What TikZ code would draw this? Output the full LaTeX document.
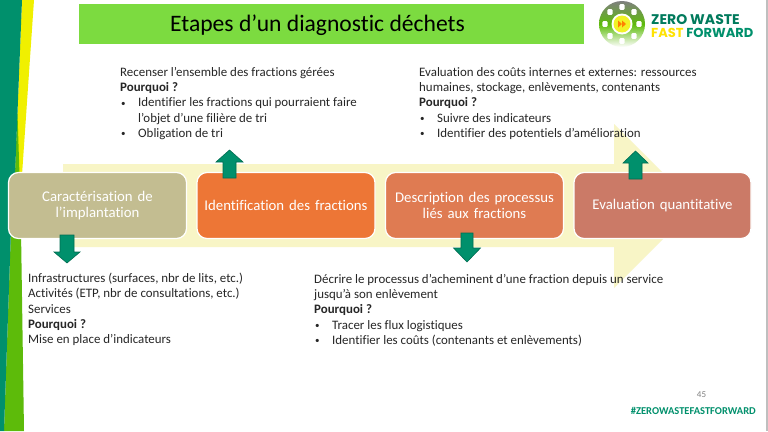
\documentclass[tikz,border=0pt]{standalone}
\usepackage{fontspec}
\setmainfont{Carlito}[Ligatures=CommonOff]
\newfontfamily\logofont{Poppins}
\definecolor{dkgreen}{HTML}{00906C}
\definecolor{ylw}{HTML}{F0F000}
\definecolor{lime}{HTML}{5DBB0A}
\definecolor{titlegreen}{HTML}{7CDB40}
\definecolor{pale}{HTML}{F8F5C6}
\definecolor{boxa}{HTML}{C3BD91}
\definecolor{boxb}{HTML}{ED7636}
\definecolor{boxc}{HTML}{DF7B52}
\definecolor{boxd}{HTML}{CB7A67}
\definecolor{txt}{HTML}{262626}
\tikzset{
 x=1pt,y=-1pt,
 stage/.style={draw=white,line width=1.2pt,rounded corners=10pt,minimum height=66pt,text=white,font=\fontsize{14.8}{16.2}\selectfont,align=center,inner sep=0pt,text width=#1},
 stage/.default=150pt,
 body/.style={anchor=north west,inner sep=0pt,text=txt,font=\fontsize{12.9}{15.3}\selectfont,align=left},
 arr/.style={fill=dkgreen,draw=dkgreen!75!black,line width=.6pt},
 icon/.style={fill=white,rounded corners=1pt},
}
\newcommand{\bul}{\hbox to 18pt{\hspace*{1pt}{\fontsize{9}{9}\selectfont\raisebox{.7pt}{\textbullet}}\hfil}}
\begin{document}
\begin{tikzpicture}
\useasboundingbox (0,0) rectangle (768,431);
\fill[white] (0,0) rectangle (768,431);
\fill[black!25] (766,0) rectangle (768,431);
% left strips
\fill[ylw] (22,0) -- (34,0) -- (22,175) -- (15,175) -- cycle;
\fill[lime] (17.4,110) -- (19.5,175) -- (21,230) -- (24,431) -- (4,431) -- (11,230) -- (15,175) -- cycle;
\fill[dkgreen] (0,0) -- (22,0) -- (15,175) -- (11,230) -- (4,431) -- (0,431) -- cycle;
% title
\node[fill=titlegreen,minimum width=505pt,minimum height=40pt,inner sep=0pt,anchor=north west] (title) at (79,4) {};
\node[font=\fontsize{23.6}{28}\selectfont,text=black,inner sep=0pt] (titletext) at (317.5,25.5) {Etapes d’un diagnostic déchets};
% big arrow
\fill[pale] (63,164) -- (614,164) -- (614,124) -- (696,206) -- (614,288) -- (614,247) -- (63,247) -- cycle;
% stages
\node[stage=178pt,fill=boxa] (s1) at (97.5,205.5) {Caractérisation de\\l’implantation};
\node[stage=178pt,fill=boxb] (s2) at (286,205.5) {Identification des fractions};
\node[stage=178pt,fill=boxc] (s3) at (474.5,205.5) {Description des processus\\liés aux fractions};
\node[stage=177pt,fill=boxd] (s4) at (662.5,205.5) {Evaluation quantitative};
% arrows
\draw[arr] (60,235) -- (74,235) -- (74,252) -- (80,252) -- (67,263) -- (54,252) -- (60,252) -- cycle;
\draw[arr] (223,178) -- (236,178) -- (236,162) -- (243,162) -- (229.5,150) -- (216,162) -- (223,162) -- cycle;
\draw[arr] (461,233) -- (473,233) -- (473,248) -- (480.5,248) -- (467,262) -- (453.5,248) -- (461,248) -- cycle;
\draw[arr] (629,179) -- (642,179) -- (642,163) -- (648,163) -- (635.5,151) -- (623,163) -- (629,163) -- cycle;
% texts
\node[body] (t1) at (120,67) {Recenser l’ensemble des fractions gérées\\
\textbf{Pourquoi ?}\\
\bul Identifier les fractions qui pourraient faire\\
\hspace*{18pt}l'objet d'une filière de tri\\
\bul Obligation de tri};
\node[body] (t2) at (419,67) {Evaluation des coûts internes et externes: ressources\\
humaines, stockage, enlèvements, contenants\\
\textbf{Pourquoi ?}\\
\bul Suivre des indicateurs\\
\bul Identifier des potentiels d’amélioration};
\node[body] (t3) at (28,273) {Infrastructures (surfaces, nbr de lits, etc.)\\
Activités (ETP, nbr de consultations, etc.)\\
Services\\
\textbf{Pourquoi ?}\\
Mise en place d’indicateurs};
\node[body] (t4) at (314,274) {Décrire le processus d’acheminent d’une fraction depuis un service\\
jusqu’à son enlèvement\\
\textbf{Pourquoi ?}\\
\bul Tracer les flux logistiques\\
\bul Identifier les coûts (contenants et enlèvements)};
% logo
\shade[inner color=ylw,outer color=dkgreen,middle color=lime] (622,24) circle (23pt);
\fill[white] (622,24) circle (10.5pt);
\fill[ylw!85!white] (622,24) circle (8.5pt);
\foreach \a in {0,45,...,315} \fill[icon] (622,24) ++(\a:17pt) +(-2.6,-2.8) rectangle +(2.6,2.8);
\fill[orange] (618,20.5) -- (622,24) -- (618,27.5) -- cycle (622,20.5) -- (626,24) -- (622,27.5) -- cycle;
\node[anchor=west,inner sep=0pt,align=left,font=\logofont\bfseries\fontsize{13}{13}\selectfont] (lg) at (651,26.5) {{\fontsize{14}{13}\selectfont\textcolor{dkgreen!85!black}{ZERO WASTE}}\\\textcolor{yellow!85!orange}{FAST} \textcolor{dkgreen}{FORWARD}};
% footer
\node[font=\fontsize{9}{10}\selectfont,text=black!50,inner sep=0pt] (pg) at (701.5,394.5) {45};
\node[anchor=east,inner sep=0pt,font=\fontsize{10.5}{12}\selectfont\bfseries,text=dkgreen] (tag) at (756,411) {\#ZEROWASTEFASTFORWARD};
\end{tikzpicture}
\end{document}
